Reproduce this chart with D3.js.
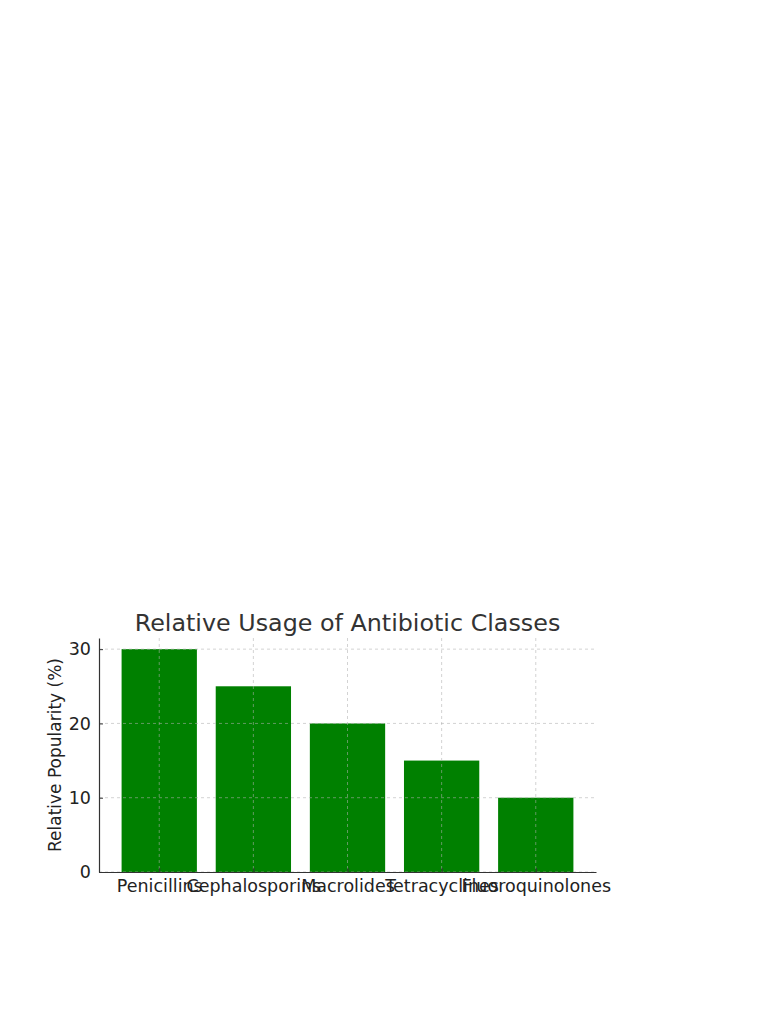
<!DOCTYPE html>
<html lang="en">
<head>
    <meta charset="UTF-8"/>
    <title>Relative Usage of Antibiotic Classes</title>
    <script src="https://d3js.org/d3.v7.min.js"></script>
    <style>
        html, body {
            margin: 0;
            padding: 0;
            background: white;
        }
        svg text {
            font-family: "DejaVu Sans", sans-serif;
        }
    </style>
</head>
<body>
    <div class="chart-container"></div>
    <script>
        // data
        var classes = ["Penicillins", "Cephalosporins", "Macrolides", "Tetracyclines", "Fluoroquinolones"];
        var popularity = [30, 25, 20, 15, 10];
        var yTicks = [0, 10, 20, 30];

        var w = 768;
        var h = 1024;
        var margin = {left: 99, right: 172, top: 638, bottom: 152};

        var svg = d3.select(".chart-container")
                    .append("svg")
                    .attr("width", w)
                    .attr("height", h);

        var plotW = w - margin.left - margin.right;
        var plotH = h - margin.top - margin.bottom;

        // matplotlib-like: bars of width 0.8 centred on integers, 5% margins
        var xLin = d3.scaleLinear()
                     .domain([-0.64, classes.length - 1 + 0.64])
                     .range([0, plotW]);
        var y = d3.scaleLinear()
                  .domain([0, 31.5])
                  .range([plotH, 0]);

        var g = svg.append("g")
                   .attr("transform", "translate(" + margin.left + "," + margin.top + ")");

        // bars
        g.selectAll("rect")
            .data(popularity)
            .enter()
            .append("rect")
            .attr("x", function(d, i) { return xLin(i - 0.4); })
            .attr("width", function() { return xLin(0.4) - xLin(-0.4); })
            .attr("y", function(d) { return y(d); })
            .attr("height", function(d) { return y(0) - y(d); })
            .attr("fill", "green");

        // grid, drawn over the bars
        var grid = g.append("g").attr("class", "grid");
        grid.selectAll("line.h")
            .data(yTicks)
            .enter()
            .append("line")
            .attr("x1", 0).attr("x2", plotW)
            .attr("y1", function(d) { return y(d); })
            .attr("y2", function(d) { return y(d); });
        grid.selectAll("line.v")
            .data(classes)
            .enter()
            .append("line")
            .attr("x1", function(d, i) { return xLin(i); })
            .attr("x2", function(d, i) { return xLin(i); })
            .attr("y1", 0).attr("y2", plotH);
        grid.selectAll("line")
            .attr("stroke", "#b0b0b0")
            .attr("stroke-opacity", 0.7)
            .attr("stroke-width", 0.8)
            .attr("stroke-dasharray", "3,3");

        // axes
        var xAxis = d3.axisBottom(xLin)
                      .tickValues(d3.range(classes.length))
                      .tickFormat(function(i) { return classes[i]; })
                      .tickSizeInner(-4)
                      .tickSizeOuter(0)
                      .tickPadding(8);
        var yAxis = d3.axisLeft(y)
                      .tickValues(yTicks)
                      .tickSizeInner(-4)
                      .tickSizeOuter(0)
                      .tickPadding(8);

        var gx = g.append("g")
                  .attr("transform", "translate(0," + plotH + ")")
                  .call(xAxis);
        var gy = g.append("g").call(yAxis);

        [gx, gy].forEach(function(a) {
            a.select(".domain").attr("stroke", "#333").attr("stroke-width", 1.2);
            a.selectAll(".tick line").attr("stroke", "#333");
            a.selectAll(".tick text")
             .attr("font-size", 17.5)
             .attr("fill", "#222")
             .style("font-family", "'DejaVu Sans', sans-serif");
        });

        // title
        svg.append("text")
            .attr("x", margin.left + plotW / 2)
            .attr("y", margin.top - 7)
            .attr("text-anchor", "middle")
            .attr("font-size", 23.8)
            .attr("fill", "#333")
            .text("Relative Usage of Antibiotic Classes");

        // y label
        svg.append("text")
            .attr("transform", "translate(61," + (margin.top + plotH / 2) + ") rotate(-90)")
            .attr("text-anchor", "middle")
            .attr("font-size", 17)
            .attr("fill", "#222")
            .text("Relative Popularity (%)");
    </script>
</body>
</html>
